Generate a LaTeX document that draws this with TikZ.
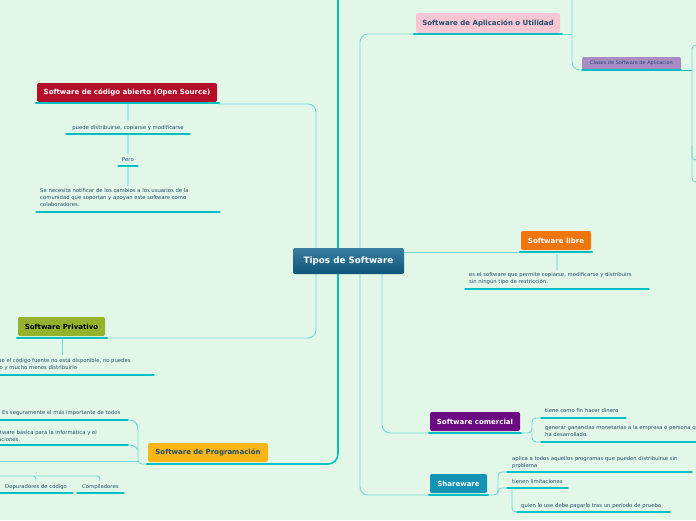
\documentclass[tikz,border=0pt]{standalone}
\usepackage{fontspec}
\setmainfont{DejaVu Sans}
\definecolor{bg}{HTML}{E2F7E8}
\definecolor{barc}{HTML}{00BFC2}
\definecolor{conc}{HTML}{6ED9D8}
\definecolor{txtc}{HTML}{1F4E6E}
\definecolor{ctop}{HTML}{3B7FA0}
\definecolor{cbot}{HTML}{0D5478}
\definecolor{cpink}{HTML}{F9C6D3}
\definecolor{cpurp}{HTML}{A98BC6}
\definecolor{cred}{HTML}{B50E2A}
\definecolor{corange}{HTML}{EE760D}
\definecolor{colive}{HTML}{95B22D}
\definecolor{cyellow}{HTML}{F9B616}
\definecolor{cviolet}{HTML}{6B0A82}
\definecolor{cblue}{HTML}{1394B5}
\begin{document}
\begin{tikzpicture}[x=1pt,y=-1pt,
  box/.style={rounded corners=2pt,inner sep=0pt,font=\fontsize{7}{8}\selectfont\bfseries},
  txt/.style={inner sep=0pt,anchor=west,align=left,text=txtc,font=\fontsize{5.3}{7.2}\selectfont},
  bar/.style={line width=2.2pt,draw=barc,line cap=round},
  tbar/.style={line width=1.3pt,draw=barc,line cap=round},
  con/.style={draw=conc,line width=0.9pt,rounded corners=8pt},
  mcon/.style={draw=barc,line width=1.6pt,rounded corners=10pt}]
\useasboundingbox (0,0) rectangle (696,520);
\fill[bg] (0,0) rectangle (696,520);
% main trunk connectors
\draw[mcon] (338,0) -- (338,464) -- (268,464);
\draw[con] (316,262) -- (316,338) -- (105,338);
\draw[con] (316,262) -- (316,104) -- (217,104);
\draw[con] (360,262) -- (360,34) -- (416,34);
\draw[con] (360,262) -- (360,495) -- (430,495);
\draw[con] (382,262) -- (382,433) -- (430,433);
\draw[con] (404,252) -- (521,252);
\foreach \x in {338,360,382} \draw[barc,line width=1.6pt] (\x,248) -- (\x,274);
% center
\node[box,top color=ctop,bottom color=cbot,minimum width=111pt,minimum height=26pt,text=white,font=\fontsize{8.8}{10}\selectfont\bfseries] (c) at (348.5,261) {Tipos de Software};
% Aplicacion
\node[box,fill=cpink,text=txtc,minimum width=144pt,minimum height=20pt] (apl) at (488,23) {Software de Aplicación o Utilidad};
\draw[bar] (414,34) -- (562,34);
\draw[con] (562,34) -- (572,34);
\draw[con] (572,0) -- (572,70) -- (582,70);
\node[box,fill=cpurp,text=txtc,minimum width=99pt,minimum height=13pt,font=\fontsize{5}{6}\selectfont] (cla) at (631.5,63.5) {Clases de Software de Aplicacion};
\draw[tbar] (582,70) -- (681,70);
\draw[barc,line width=1pt] (681,70) -- (692,70);
\draw[con,rounded corners=4pt] (700,45) -- (692,45) -- (692,182) -- (700,182);
\draw[con,rounded corners=4pt] (692,145) -- (692,160) -- (700,160);
% Open source
\node[box,fill=cred,text=white,minimum width=180pt,minimum height=19pt] (os) at (127,92.5) {Software de código abierto (Open Source)};
\draw[bar] (36,103) -- (219,103);
\node[txt,anchor=center] (os1) at (128,128) {puede distribuirse, copiarse y modificarse};
\draw[tbar] (66,134) -- (190,134);
\node[txt,anchor=center] (os2) at (128,160) {Pero};
\draw[tbar] (118,166) -- (138,166);
\node[txt,anchor=north west] (os3) at (40,188) {Se necesita notificar de los cambios a los usuarios de la\\comunidad que soportan y apoyan este software como\\colaboradores.};
\draw[tbar] (36,212) -- (220,212);
\draw[conc!60,line width=1.3pt] (128,104) -- (128,121) (128,135) -- (128,154) (128,167) -- (128,186);
% Privativo
\node[box,fill=colive,text=black,minimum width=87pt,minimum height=19pt] (pr) at (61.5,326.5) {Software Privativo};
\draw[bar] (17,338) -- (107,338);
\draw[conc,line width=0.9pt] (62,339) -- (62,355);
\node[txt,anchor=north west] (pr1) at (-2,358) {ue el código fuente no está disponible, no puedes\\lo y mucho menos distribuirlo};
\draw[tbar] (0,375) -- (154,375);
% Programacion
\node[box,fill=cyellow,text=txtc,minimum width=120pt,minimum height=19pt] (pg) at (208,452.5) {Software de Programación};
\draw[bar] (147,464) -- (269,464);
\draw[con,rounded corners=4pt] (147,464) -- (138,464) -- (138,426) -- (134,420) -- (128,420);
\draw[con,rounded corners=4pt] (138,450) -- (134,445) -- (128,445);
\draw[con] (138,461) -- (0,461);
\node[txt] (pg1) at (2,413) {Es seguramente el más importante de todos};
\draw[tbar] (0,420) -- (128,420);
\node[txt,anchor=north west] (pg2) at (-2,430) {ftware básica para la informática y el\\aciones.};
\draw[tbar] (0,445) -- (128,445);
\draw[con,rounded corners=3pt] (0,476) -- (36,476) -- (36,481);
\draw[con,rounded corners=3pt] (36,476) -- (100,476) -- (100,481);
\node[txt] (pg3) at (5,487) {Depuradores de código};
\draw[tbar] (0,493) -- (73,493);
\node[txt] (pg4) at (82,487) {Compiladores};
\draw[tbar] (77,493) -- (124,493);
% Libre
\node[box,fill=corange,text=white,minimum width=70pt,minimum height=19pt] (li) at (556,240.5) {Software libre};
\draw[bar] (520,252) -- (592,252);
\draw[conc!60,line width=1.3pt] (557,254) -- (557,270);
\node[txt,anchor=north west] (li1) at (469,272) {es el software que permite copiarse, modificarse y distribuirs\\sin ningún tipo de restricción.};
\draw[tbar] (465,289) -- (649,289);
% Comercial
\node[box,fill=cviolet,text=white,minimum width=90pt,minimum height=19pt] (co) at (475,421.5) {Software comercial};
\draw[bar] (429,433) -- (521,433);
\draw[con,rounded corners=4pt] (521,433) -- (532,433) -- (532,418) -- (541,418);
\draw[con,rounded corners=4pt] (532,433) -- (532,442) -- (541,442);
\node[txt] (co1) at (545,411) {tiene como fin hacer dinero};
\draw[tbar] (541,418) -- (626,418);
\node[txt,anchor=north west] (co2) at (545,425) {generar ganancias monetarias a la empresa o persona que lo\\ha desarrollado.};
\draw[tbar] (541,442) -- (696,442);
% Shareware
\node[box,fill=cblue,text=white,minimum width=57pt,minimum height=19pt] (sh) at (458.5,483.5) {Shareware};
\draw[bar] (429,495) -- (488,495);
\draw[con,rounded corners=4pt] (488,495) -- (498,495) -- (498,472) -- (507,472);
\draw[con,rounded corners=4pt] (498,495) -- (498,488) -- (507,488);
\node[txt,anchor=north west] (sh1) at (512,456) {aplica a todos aquellos programas que pueden distribuirse sin\\problema};
\draw[tbar] (507,472) -- (692,472);
\node[txt] (sh2) at (512,482) {tienen limitaciones};
\draw[tbar] (507,488) -- (568,488);
\draw[con,rounded corners=4pt] (512,489) -- (512,512) -- (517,512);
\node[txt] (sh3) at (521,506) {quien lo use debe pagarlo tras un período de prueba};
\draw[tbar] (517,512) -- (670,512);
\end{tikzpicture}
\end{document}
